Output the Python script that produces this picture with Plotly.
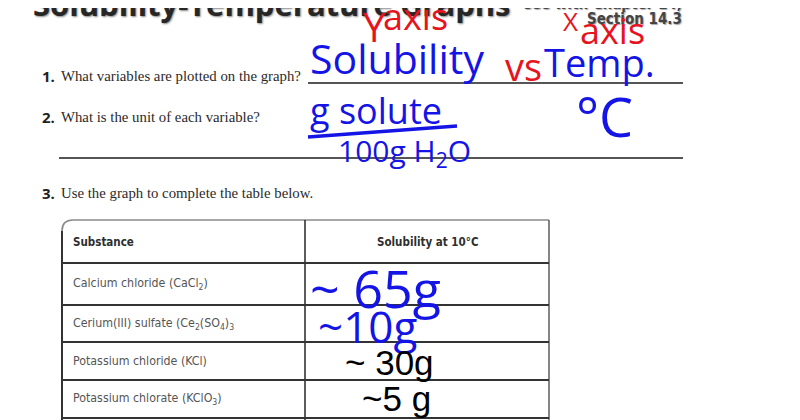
import plotly.graph_objects as go

# contenu de la fiche
titre = "Solubility-Temperature Graphs"
chapitre = ["Use with Chapter 14,", "Section 14.3"]
numeros = ["1.", "2.", "3."]
questions = ["What variables are plotted on the graph?",
             "What is the unit of each variable?",
             "Use the graph to complete the table below."]
entetes = ["Substance", "Solubility at 10°C"]
substances = ["Calcium chloride (CaCl<sub>2</sub>)",
              "Cerium(III) sulfate (Ce<sub>2</sub>(SO<sub>4</sub>)<sub>3</sub>",
              "Potassium chloride (KCl)",
              "Potassium chlorate (KClO<sub>3</sub>)"]
solubilites = ["~ 65g", "~10g", "~ 30g", "~5 g"]
reponse1 = ["Solubility", "vs", "Temp."]
reponse2 = ["g solute", "100g H<sub>2</sub>O", "°C"]
etiquettes_axes = ["Y", "axis", "X", "axis"]

BLEU = "#1414e6"
ROUGE = "#e6141e"
MAIN = "Open Sans"
NARROW = "Liberation Sans Narrow, DejaVu Sans Condensed, sans-serif"

# la page html decale la figure de 8 px (marge du body)
DECALAGE = 8

fig = go.Figure()
annots = []


def texte(x, y, t, size, color="#333", family=MAIN, xanchor="left",
          weight="normal", shadow=None, yshift=0):
    f = dict(size=size, color=color, family=family, weight=weight)
    if shadow:
        f["shadow"] = shadow
    annots.append(dict(x=x, y=y, xref="x", yref="y", text=t, showarrow=False,
                       xanchor=xanchor, yanchor="middle", yshift=yshift,
                       font=f))


# en-tete (coupe en haut de l'image)
texte(31, 10, titre, 31, "#262626", "Open Sans", weight="bold",
      shadow="1px 1px 2px #888", yshift=6)
texte(684, 10, chapitre[0], 15, "#444", NARROW, "right", "bold",
      "1px 1px 1px #aaa", yshift=6)
texte(684, 19, chapitre[1], 15, "#444", NARROW, "right", "bold",
      "1px 1px 1px #aaa")

# questions
y_q = [76, 117, 193]
for n, q, y in zip(numeros, questions, y_q):
    texte(40, y, n, 15, "#222", "Open Sans", weight="bold")
    texte(59, y, q, 14.8, "#2a2a2a", "Liberation Serif")

# lignes de reponse
shapes = [
    dict(type="line", x0=308, x1=683, y0=83, y1=83,
         line=dict(color="#555", width=2)),
    dict(type="line", x0=59, x1=683, y0=158, y1=158,
         line=dict(color="#555", width=2)),
    # barre de fraction manuscrite
    dict(type="line", x0=308, x1=457, y0=137, y1=126,
         line=dict(color=BLEU, width=3.5)),
]

# reponses manuscrites
texte(308, 58, reponse1[0], 41, BLEU, MAIN)
texte(503, 66, reponse1[1], 38, ROUGE, MAIN)
texte(542, 62, reponse1[2], 38, BLEU, MAIN)
texte(308, 110, reponse2[0], 36, BLEU, MAIN)
texte(336, 152, reponse2[1], 30, BLEU, MAIN)
texte(574, 116, reponse2[2], 54, BLEU, MAIN)

texte(361, 26, etiquettes_axes[0], 40, ROUGE, MAIN)
texte(381, 16, etiquettes_axes[1], 36, ROUGE, MAIN)
texte(561, 21, etiquettes_axes[2], 26, ROUGE, MAIN)
texte(578, 30, etiquettes_axes[3], 36, ROUGE, MAIN)

# tableau
gauche, milieu, droite = 62, 305, 549
haut, bas = 220, 422
bords = [263, 305, 342, 380, 418]

shapes.append(dict(type="path",
                   path=f"M {gauche} {bas} L {gauche} {haut + 11} "
                        f"Q {gauche} {haut} {gauche + 11} {haut} L {droite} {haut}",
                   line=dict(color="#8a8a8a", width=1.6)))
shapes.append(dict(type="line", x0=gauche, x1=gauche, y0=haut + 11, y1=bas,
                   line=dict(color="#333", width=2)))
shapes.append(dict(type="line", x0=droite, x1=droite, y0=haut, y1=bas,
                   line=dict(color="#666", width=1.6)))
shapes.append(dict(type="line", x0=milieu, x1=milieu, y0=haut, y1=bas,
                   line=dict(color="#333", width=1.6)))
for yb in bords:
    shapes.append(dict(type="line", x0=gauche, x1=droite, y0=yb, y1=yb,
                       line=dict(color="#333", width=1.8)))

texte(71, 242, entetes[0], 11.5, "#2e2e2e", NARROW, weight="bold")
texte((milieu + droite) / 2, 242, entetes[1], 11.5, "#2e2e2e", NARROW,
      "center", "bold")

for i, s in enumerate(substances):
    yc = (bords[i] + bords[i + 1]) / 2
    texte(71, yc, s, 12.3, "#555", NARROW)

# reponses du tableau : deux a la main, deux tapees
texte(308, 287, solubilites[0], 52, BLEU, MAIN)
texte(316, 326, solubilites[1], 44, BLEU, MAIN)
texte(389, 362, solubilites[2], 35, "#000", "Liberation Sans", "center")
texte(396, 398, solubilites[3], 35, "#000", "Liberation Sans", "center")

fig.update_layout(
    width=800, height=420,
    margin=dict(l=0, r=0, t=0, b=0),
    paper_bgcolor="white", plot_bgcolor="white",
    xaxis=dict(range=[DECALAGE, 800 + DECALAGE], visible=False,
               fixedrange=True),
    yaxis=dict(range=[420 + DECALAGE, DECALAGE], visible=False,
               fixedrange=True),
    showlegend=False,
    shapes=shapes,
    annotations=annots,
)

fig.write_html("out.html")
